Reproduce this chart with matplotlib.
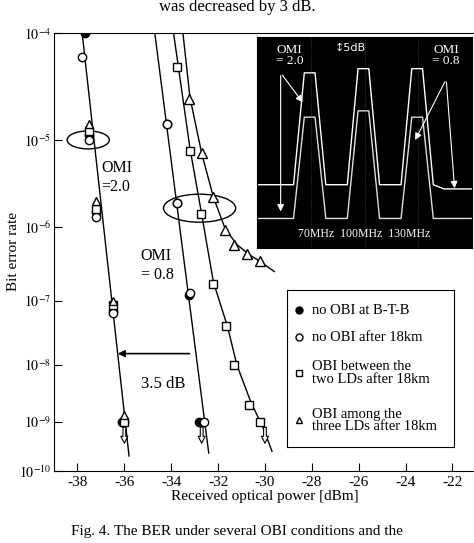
import matplotlib
matplotlib.use("Agg")
import matplotlib.pyplot as plt
from matplotlib.patches import Ellipse
import numpy as np

plt.rcParams['font.family'] = ['Liberation Serif', 'DejaVu Serif']
plt.rcParams['mathtext.fontset'] = 'stix'

# data
btb_x = [-37.7, -37.5, -37.2, -36.5, -36.1]
btb_y = [1e-4, 1.1e-5, 1.5e-6, 7e-8, 1e-9]
c18a_x = [-37.8, -37.5, -37.2, -36.5, -36.0]
c18a_y = [6e-5, 1e-5, 1.3e-6, 6.5e-8, 1e-9]
sqa_x = [-37.5, -37.2, -36.5, -36.0]
sqa_y = [1.2e-5, 1.6e-6, 8.5e-8, 1e-9]
tra_x = [-37.5, -37.2, -36.5, -36.0]
tra_y = [1.4e-5, 2e-6, 1e-7, 1.3e-9]
lineA_x = [-37.8, -35.8]
lineA_y = [1e-4, 2e-10]

btbB_x = [-34.2, -33.75, -33.25, -32.8]
btbB_y = [1.4e-5, 1.9e-6, 1.2e-7, 1e-9]
c18b_x = [-34.2, -33.75, -33.2, -32.6]
c18b_y = [1.4e-5, 1.9e-6, 1.3e-7, 1e-9]
lineB_x = [-34.7, -32.4]
lineB_y = [1e-4, 2.3e-10]

sq_x = [-33.75, -33.2, -32.75, -32.2, -31.65, -31.3, -30.7, -30.2]
sq_y = [4.8e-5, 7.5e-6, 1.4e-6, 1.7e-7, 4e-8, 1e-8, 2e-9, 1e-9]
lineS_x = [-33.9, -33.2, -32.7, -32.2, -31.6, -31.2, -30.6, -30.1, -29.7]
lineS_y = [1e-4, 8e-6, 1.4e-6, 1.8e-7, 4e-8, 1e-8, 2.2e-9, 8e-10, 2.5e-10]

tr_x = [-33.25, -32.7, -32.2, -31.7, -31.3, -30.75, -30.2]
tr_y = [2.4e-5, 7e-6, 2.2e-6, 9e-7, 5.7e-7, 4.3e-7, 3.5e-7]
lineT_x = [-33.5, -33.2, -32.7, -32.2, -31.7, -31.2, -30.7, -30.2, -29.6]
lineT_y = [1e-4, 2.5e-5, 7e-6, 2.2e-6, 9.5e-7, 5.8e-7, 4.3e-7, 3.4e-7, 2.5e-7]

arrow_x = [-36.0, -32.7, -30.0]
arrow_y = [8e-10, 8e-10, 8e-10]

xticks = [-38, -36, -34, -32, -30, -28, -26, -24, -22]
yexp = [-10, -9, -8, -7, -6, -5, -4]

# the scanned figure's decades are unevenly spaced
ypos = np.array([0.0, 0.112, 0.242, 0.388, 0.557, 0.756, 1.0])
yexp_a = np.array(yexp, dtype=float)

def fwd(v):
    v = np.asarray(v, dtype=float)
    t = np.log10(np.clip(v, 1e-30, None))
    return np.interp(t, yexp_a, ypos)

def inv(p):
    p = np.asarray(p, dtype=float)
    return 10 ** np.interp(p, ypos, yexp_a)

fig = plt.figure(figsize=(4.74, 5.43), dpi=100)
ax = fig.add_axes([0.114, 0.133, 0.89, 0.806])
ax.set_yscale('function', functions=(fwd, inv))
ax.set_xlim(-39, -21)
ax.set_ylim(1e-10, 1e-4)
ax.set_xticks(xticks)
ax.set_xticklabels([str(t) for t in xticks], fontsize=11)
ax.set_yticks([10.0 ** e for e in yexp])
ax.set_yticklabels([r'$10^{%d}$' % e for e in yexp], fontsize=10)
ax.minorticks_off()
ax.tick_params(axis='both', direction='in', length=6)
ax.tick_params(axis='y', pad=2)
ax.set_xlabel('Received optical power [dBm]', fontsize=11, labelpad=1)
ax.set_ylabel('Bit error rate', fontsize=11, labelpad=-1)

for lx, ly in [(lineA_x, lineA_y), (lineB_x, lineB_y), (lineS_x, lineS_y), (lineT_x, lineT_y)]:
    ax.plot(lx, ly, color='black', lw=1)

ms = 6
ax.plot(btb_x, btb_y, 'o', color='black', ms=ms)
ax.plot(btbB_x, btbB_y, 'o', color='black', ms=ms)
ax.plot(c18a_x, c18a_y, 'o', mfc='white', mec='black', ms=ms)
ax.plot(c18b_x, c18b_y, 'o', mfc='white', mec='black', ms=ms)
ax.plot(sqa_x, sqa_y, 's', mfc='white', mec='black', ms=ms)
ax.plot(sq_x, sq_y, 's', mfc='white', mec='black', ms=ms)
ax.plot(tra_x, tra_y, '^', mfc='white', mec='black', ms=ms)
ax.plot(tr_x, tr_y, '^', mfc='white', mec='black', ms=ms + 1)
for x0, y0 in zip(arrow_x, arrow_y):
    ax.annotate('', xy=(x0, y0 * 0.4), xytext=(x0, y0 * 1.1),
                arrowprops=dict(arrowstyle='simple', fc='white', ec='black', lw=0.8))

ax.add_patch(Ellipse((0.081, 0.756), 0.1, 0.041, transform=ax.transAxes, fill=False, lw=1))
ax.add_patch(Ellipse((0.345, 0.600), 0.171, 0.064, transform=ax.transAxes, fill=False, lw=1))
ax.text(-37.0, 2.6e-6, 'OMI\n=2.0', fontsize=11.5, linespacing=1.2)
ax.text(-35.3, 2.0e-7, 'OMI\n= 0.8', fontsize=11.5, linespacing=1.2)
ax.annotate('', xy=(-36.4, 1.5e-8), xytext=(-33.1, 1.5e-8),
            arrowprops=dict(arrowstyle='-|>', color='black', lw=1.2))
ax.text(-35.3, 4.0e-9, '3.5 dB', fontsize=12)

# legend box
lg = fig.add_axes([287/474, 1-447/543, 167/474, 157/543])
lg.set_xticks([]); lg.set_yticks([])
lg.set_xlim(0, 1); lg.set_ylim(0, 1)
lg.plot([0.07], [0.87], 'o', color='black', ms=5)
lg.plot([0.07], [0.70], 'o', mfc='white', mec='black', ms=5)
lg.plot([0.07], [0.47], 's', mfc='white', mec='black', ms=5)
lg.plot([0.07], [0.17], '^', mfc='white', mec='black', ms=5)
lg.text(0.15, 0.87, 'no OBI at B-T-B', va='center', fontsize=10.5)
lg.text(0.15, 0.70, 'no OBI after 18km', va='center', fontsize=10.5)
lg.text(0.15, 0.47, 'OBI between the\ntwo LDs after 18km', va='center', fontsize=10.5, linespacing=0.95)
lg.text(0.15, 0.17, 'OBI among the\nthree LDs after 18km', va='center', fontsize=10.5, linespacing=0.95)

# inset spectrum
ins = fig.add_axes([257/474, 1-248/543, 215/474, 211/543])
ins.set_facecolor('black')
ins.set_xticks([]); ins.set_yticks([])
ins.set_xlim(0, 1); ins.set_ylim(0, 1)
hi_x = [0, 0.12, 0.17, 0.22, 0.27, 0.32, 0.37, 0.42, 0.47, 0.52, 0.57, 0.62, 0.67, 0.72, 0.77, 0.82, 0.87, 1]
hi_y = [0.30, 0.30, 0.30, 0.83, 0.83, 0.30, 0.30, 0.30, 0.85, 0.85, 0.30, 0.30, 0.30, 0.85, 0.85, 0.30, 0.28, 0.28]
lo_y = [0.14, 0.14, 0.14, 0.62, 0.62, 0.14, 0.14, 0.14, 0.65, 0.65, 0.14, 0.14, 0.14, 0.62, 0.62, 0.14, 0.14, 0.14]
ins.plot(hi_x, hi_y, color='white', lw=1)
ins.plot(hi_x, lo_y, color='#dddddd', lw=1)
for gx in [0.25, 0.5, 0.75]:
    ins.axvline(gx, color='#555555', lw=0.5, ls=':')
ins.text(0.15, 0.87, 'OMI\n= 2.0', color='white', ha='center', fontsize=9.5, linespacing=0.9)
ins.text(0.88, 0.87, 'OMI\n= 0.8', color='white', ha='center', fontsize=9.5, linespacing=0.9)
ins.text(0.36, 0.95, '↕5dB', color='white', fontsize=8, va='center', family=['DejaVu Sans'])
ins.text(0.5, 0.05, '70MHz  100MHz  130MHz', color='white', ha='center', fontsize=8.5)
for tx, ty, sx, sy in [(0.22, 0.68, 0.11, 0.83), (0.11, 0.16, 0.11, 0.83),
                       (0.73, 0.50, 0.88, 0.80), (0.92, 0.27, 0.88, 0.80)]:
    ins.annotate('', xy=(tx, ty), xytext=(sx, sy),
                 arrowprops=dict(arrowstyle='-|>', color='white', lw=0.8))

fig.text(0.5, 0.988, 'was decreased by 3 dB.', ha='center', va='center', fontsize=12)
fig.text(0.5, 0.022, 'Fig. 4. The BER under several OBI conditions and the', ha='center', va='center', fontsize=11)

fig.savefig('out.png', dpi=100)
